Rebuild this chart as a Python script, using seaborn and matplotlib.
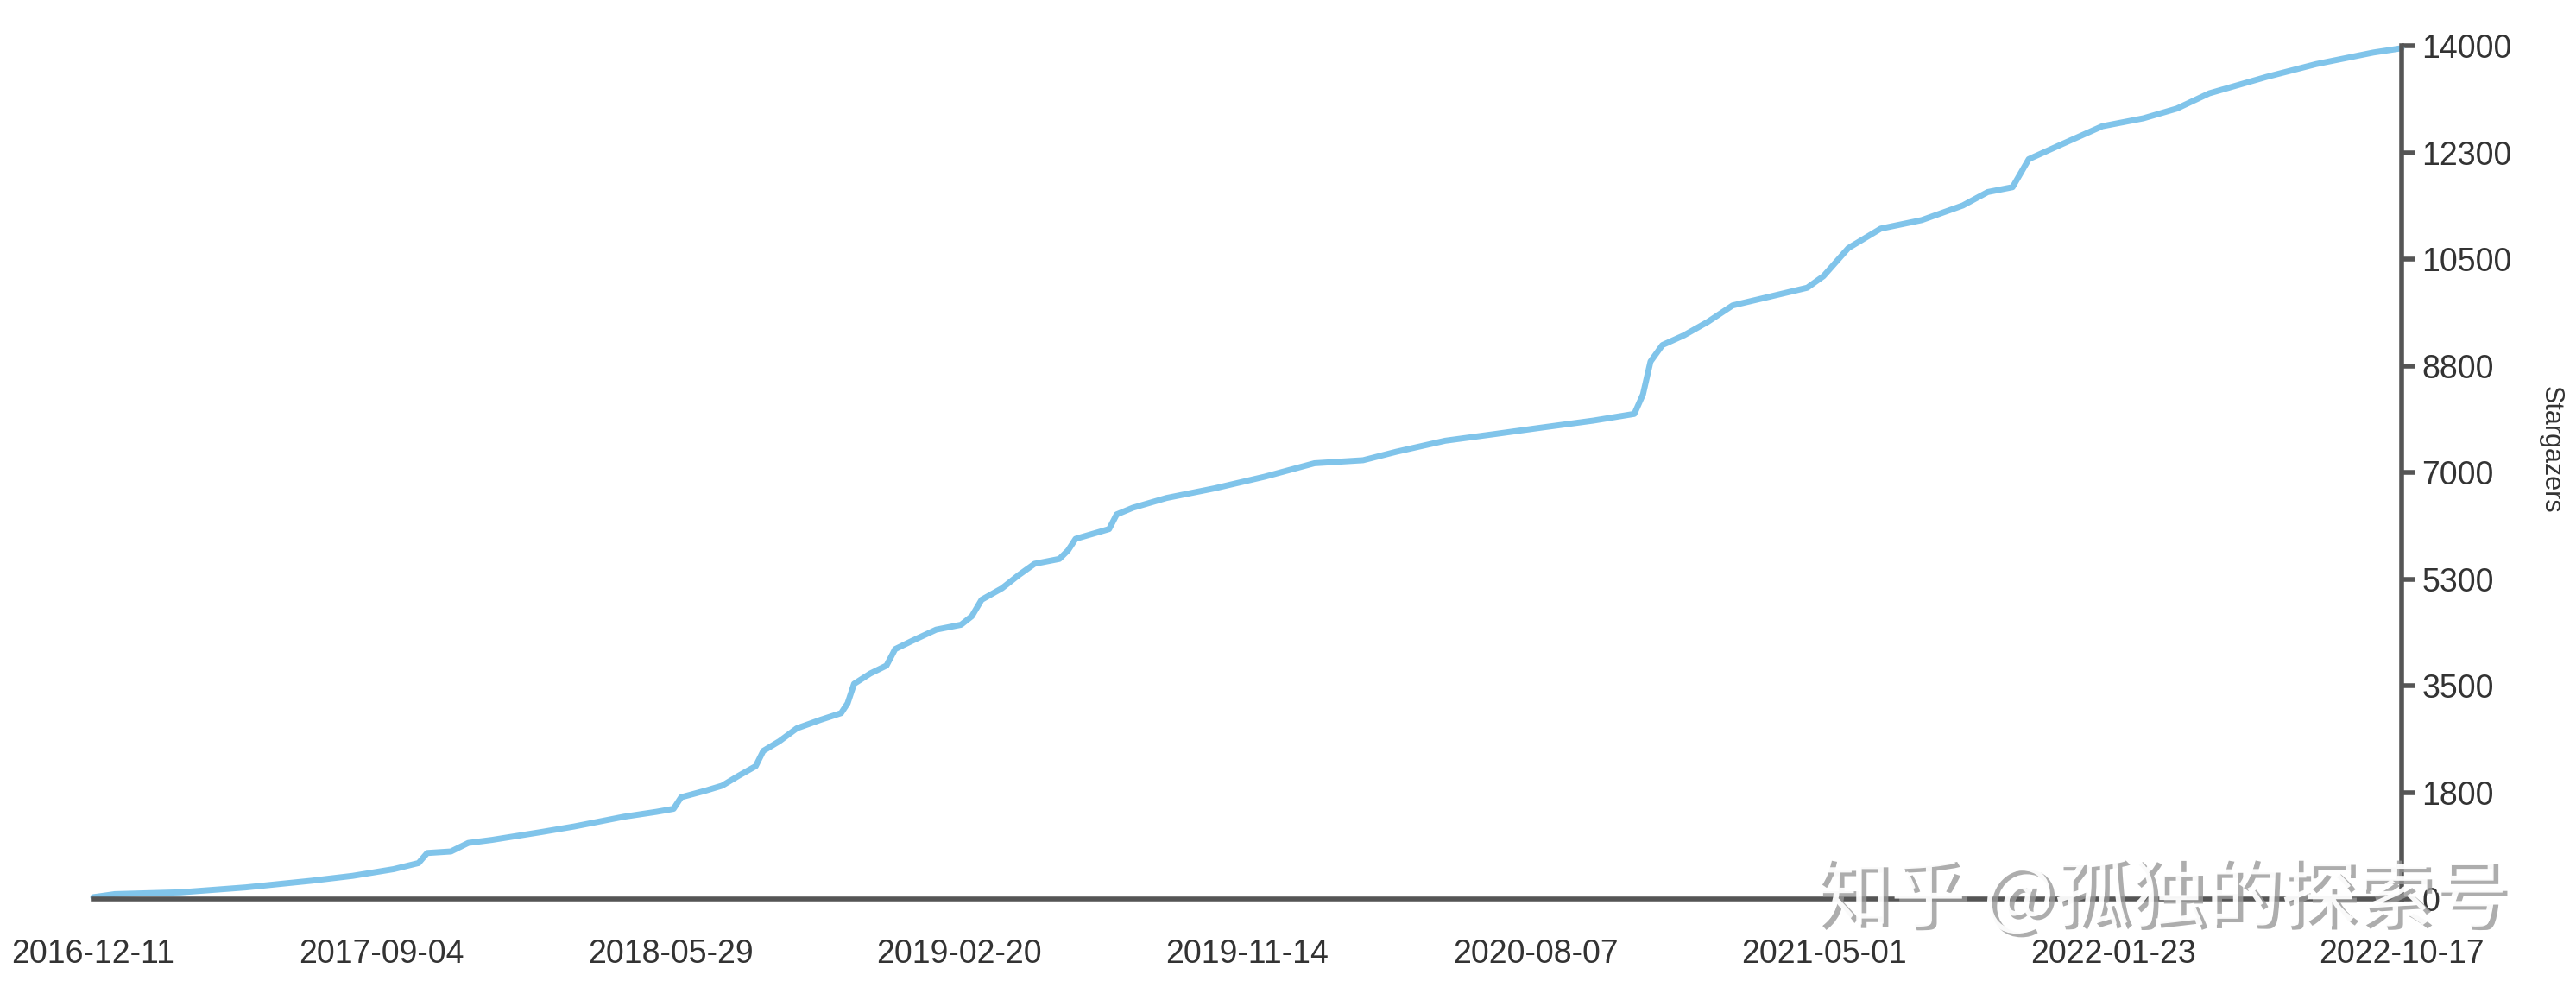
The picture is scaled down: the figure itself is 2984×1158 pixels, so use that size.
import pandas as pd
import numpy as np
import seaborn as sns
import matplotlib.pyplot as plt
import matplotlib.patheffects as pe

# star history: days after the first star, cumulative stars
start = "2016-12-11"
days = [0, 20, 81, 141, 202, 240, 278, 301, 309, 331, 347, 369, 415, 445, 491,
        521, 537, 544, 567, 582, 597, 613, 620, 635, 651, 673, 692, 698, 704,
        719, 734, 742, 757, 780, 803, 813, 822, 841, 856, 871, 894, 902, 909,
        940, 947, 962, 993, 1038, 1084, 1130, 1175, 1206, 1251, 1297, 1342,
        1388, 1426, 1434, 1441, 1452, 1472, 1494, 1517, 1548, 1586, 1601, 1624,
        1654, 1692, 1730, 1753, 1776, 1791, 1821, 1859, 1897, 1928, 1958, 2011,
        2057, 2110, 2136]
stars = [30, 80, 110, 190, 300, 380, 490, 590, 755, 780, 920, 970, 1100, 1190,
         1350, 1430, 1480, 1670, 1780, 1860, 2020, 2180, 2430, 2590, 2800, 2940,
         3050, 3210, 3530, 3700, 3830, 4100, 4230, 4420, 4500, 4640, 4910, 5100,
         5310, 5500, 5580, 5720, 5910, 6070, 6310, 6420, 6580, 6740, 6930, 7150,
         7200, 7340, 7520, 7630, 7740, 7850, 7960, 8280, 8820, 9090, 9250, 9470,
         9740, 9870, 10030, 10220, 10680, 11000, 11140, 11380, 11600, 11680,
         12140, 12380, 12680, 12810, 12970, 13220, 13490, 13700, 13890, 13960]

x_tick_labels = ["2016-12-11", "2017-09-04", "2018-05-29", "2019-02-20",
                 "2019-11-14", "2020-08-07", "2021-05-01", "2022-01-23",
                 "2022-10-17"]
y_ticks = [0, 1750, 3500, 5250, 7000, 8750, 10500, 12250, 14000]
y_tick_labels = ["0", "1800", "3500", "5300", "7000", "8800", "10500", "12300", "14000"]

df = pd.DataFrame({
    "date": pd.to_datetime(start) + pd.to_timedelta(days, unit="D"),
    "stars": stars,
})

sns.set_style("white")
plt.rcParams["font.family"] = ["Liberation Sans", "DejaVu Sans"]

axis_col = "#555555"
fig = plt.figure(figsize=(29.84, 11.58), dpi=100)
ax = fig.add_axes([0.0362, 0.101, 0.8961, 0.8532])

sns.lineplot(data=df, x="date", y="stars", color="#80c4ea", linewidth=5,
             ax=ax, clip_on=False)

xt = pd.to_datetime(x_tick_labels)
ax.set_xticks(xt)
ax.set_xticklabels(x_tick_labels)
ax.set_xlim(xt[0], xt[-1])
ax.set_ylim(0, 14000)
ax.set_yticks(y_ticks)
ax.set_yticklabels(y_tick_labels)
ax.yaxis.tick_right()
ax.set_xlabel("")
ax.set_ylabel("")

for s in ["top", "left"]:
    ax.spines[s].set_visible(False)
for s in ["bottom", "right"]:
    ax.spines[s].set_color(axis_col)
    ax.spines[s].set_linewidth(4)

ax.tick_params(axis="both", length=11, width=4, color=axis_col,
               labelcolor="#333333", labelsize=27)
ax.tick_params(axis="x", pad=22)
ax.tick_params(axis="y", pad=6)

ax.text(1.0647, 0.527, "Stargazers", transform=ax.transAxes, rotation=270,
        ha="center", va="center", fontsize=22, color="#333333")

fig.text(0.839, 0.101, "知乎 @孤独的探索号", ha="center", va="center",
         fontsize=63, color="white", alpha=0.95,
         family=["Noto Sans CJK SC", "DejaVu Sans"],
         path_effects=[pe.withSimplePatchShadow(offset=(4, -3),
                                                shadow_rgbFace="#999999",
                                                alpha=0.8)])

fig.savefig("out.png", dpi=100)
